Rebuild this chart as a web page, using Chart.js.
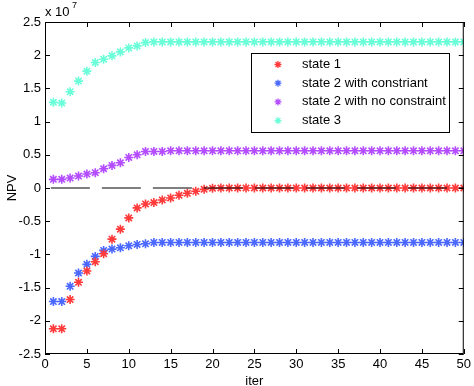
<!DOCTYPE html>
<html>
<head>
<meta charset="utf-8">
<script src="https://cdn.jsdelivr.net/npm/chart.js@4.4.0/dist/chart.umd.min.js"></script>
<style>
html, body { margin: 0; padding: 0; background: #fff; }
#wrap { width: 474px; height: 386px; }
</style>
</head>
<body>
<div id="wrap"><canvas id="npvChart" width="474" height="386"></canvas></div>
<script>
// values in units of 1e7
var iters = [];
for (var i = 1; i <= 50; i++) iters.push(i);

var state1 = [-2.12, -2.12, -1.68, -1.42, -1.25, -1.11, -0.99, -0.77, -0.62, -0.45,
  -0.30, -0.24, -0.22, -0.18, -0.15, -0.11, -0.08, -0.05, -0.02, -0.005,
  0, 0, 0, 0, 0, 0, 0, 0, 0, 0, 0, 0, 0, 0, 0, 0, 0, 0, 0, 0,
  0, 0, 0, 0, 0, 0, 0, 0, 0, 0];
var state2c = [-1.71, -1.71, -1.48, -1.28, -1.15, -1.03, -0.94, -0.92, -0.90, -0.87,
  -0.85, -0.84, -0.82, -0.82, -0.82, -0.82, -0.82, -0.82, -0.82, -0.82,
  -0.82, -0.82, -0.82, -0.82, -0.82, -0.82, -0.82, -0.82, -0.82, -0.82,
  -0.82, -0.82, -0.82, -0.82, -0.82, -0.82, -0.82, -0.82, -0.82, -0.82,
  -0.82, -0.82, -0.82, -0.82, -0.82, -0.82, -0.82, -0.82, -0.82, -0.82];
var state2nc = [0.13, 0.13, 0.15, 0.18, 0.21, 0.23, 0.29, 0.34, 0.38, 0.46,
  0.50, 0.55, 0.55, 0.55, 0.56, 0.56, 0.56, 0.56, 0.56, 0.56,
  0.56, 0.56, 0.56, 0.56, 0.56, 0.56, 0.56, 0.56, 0.56, 0.56,
  0.56, 0.56, 0.56, 0.56, 0.56, 0.56, 0.56, 0.56, 0.56, 0.56,
  0.56, 0.56, 0.56, 0.56, 0.56, 0.56, 0.56, 0.56, 0.56, 0.56];
var state3 = [1.29, 1.28, 1.45, 1.61, 1.76, 1.89, 1.94, 1.99, 2.05, 2.11,
  2.14, 2.19, 2.2, 2.2, 2.2, 2.2, 2.2, 2.2, 2.2, 2.2,
  2.2, 2.2, 2.2, 2.2, 2.2, 2.2, 2.2, 2.2, 2.2, 2.2,
  2.2, 2.2, 2.2, 2.2, 2.2, 2.2, 2.2, 2.2, 2.2, 2.2,
  2.2, 2.2, 2.2, 2.2, 2.2, 2.2, 2.2, 2.2, 2.2, 2.2];
var zeroLineX = [0.7, 50];
var zeroLineY = [0, 0];

var labels = ["state 1", "state 2 with constriant", "state 2 with no constraint", "state 3"];
var colors = ['#ff3a3a', '#4a68ff', '#b44cff', '#6affd8'];

var xTicks = [0, 5, 10, 15, 20, 25, 30, 35, 40, 45, 50];
var yTicks = [-2.5, -2, -1.5, -1, -0.5, 0, 0.5, 1, 1.5, 2, 2.5];

var FONT = "'Liberation Sans', Arial, Helvetica, sans-serif";

function pts(xs, ys) {
  return xs.map(function (x, k) { return { x: x, y: ys[k] }; });
}

function starSet(label, ys, color) {
  return {
    label: label,
    data: pts(iters, ys),
    showLine: false,
    pointStyle: 'star',
    pointRadius: 4.5,
    pointBorderWidth: 1.6,
    borderColor: color,
    backgroundColor: color,
    inLegend: true
  };
}

var frame = {
  id: 'frame',
  afterDraw: function (chart) {
    var c = chart.ctx, a = chart.chartArea;
    var sx = chart.scales.x, sy = chart.scales.y;
    c.save();
    c.strokeStyle = '#000';
    c.lineWidth = 1;
    c.strokeRect(a.left + 0.5, a.top + 0.5, a.right - a.left - 1, a.bottom - a.top - 1);
    c.beginPath();
    xTicks.forEach(function (v) {
      var px = Math.round(sx.getPixelForValue(v)) + 0.5;
      c.moveTo(px, a.bottom); c.lineTo(px, a.bottom - 5);
      c.moveTo(px, a.top); c.lineTo(px, a.top + 5);
    });
    yTicks.forEach(function (v) {
      var py = Math.round(sy.getPixelForValue(v)) + 0.5;
      c.moveTo(a.left, py); c.lineTo(a.left + 5, py);
      c.moveTo(a.right, py); c.lineTo(a.right - 5, py);
    });
    c.stroke();

    c.fillStyle = '#000';
    c.font = '13px ' + FONT;
    c.textBaseline = 'alphabetic';
    c.textAlign = 'left';
    c.fillText('x 10', 45, 16);
    c.font = '9px ' + FONT;
    c.fillText('7', 72, 8);

    c.font = '13px ' + FONT;
    c.textAlign = 'center';
    c.fillText('iter', (a.left + a.right) / 2, 385);
    c.save();
    c.translate(12, (a.top + a.bottom) / 2);
    c.rotate(-Math.PI / 2);
    c.textBaseline = 'middle';
    c.fillText('NPV', 0, 0);
    c.restore();

    // legend
    var lx = 251, ly = 53, lw = 198, lh = 79;
    c.fillStyle = '#fff';
    c.fillRect(lx, ly, lw, lh);
    c.strokeStyle = '#000';
    c.strokeRect(lx + 0.5, ly + 0.5, lw, lh);
    var ds = chart.data.datasets.filter(function (d) { return d.inLegend; });
    ds.forEach(function (d, k) {
      var yy = 64.5 + k * 18.7;
      var r = 3.5;
      c.strokeStyle = d.borderColor;
      c.lineWidth = 1.3;
      c.beginPath();
      c.moveTo(278 - r, yy); c.lineTo(278 + r, yy);
      c.moveTo(278, yy - r); c.lineTo(278, yy + r);
      c.moveTo(278 - r * 0.7, yy - r * 0.7); c.lineTo(278 + r * 0.7, yy + r * 0.7);
      c.moveTo(278 - r * 0.7, yy + r * 0.7); c.lineTo(278 + r * 0.7, yy - r * 0.7);
      c.stroke();
      c.fillStyle = '#000';
      c.font = '13px ' + FONT;
      c.textAlign = 'left';
      c.textBaseline = 'middle';
      c.fillText(d.label, 302, yy);
    });
    c.restore();
  }
};

var ctx = document.getElementById('npvChart').getContext('2d');
var npvChart = new Chart(ctx, {
  type: 'scatter',
  data: {
    datasets: [
      {
        label: 'zero',
        data: pts(zeroLineX, zeroLineY),
        showLine: true,
        borderColor: '#000',
        borderWidth: 1,
        borderDash: [39, 12],
        pointRadius: 0,
        inLegend: false
      },
      starSet(labels[0], state1, colors[0]),
      starSet(labels[1], state2c, colors[1]),
      starSet(labels[2], state2nc, colors[2]),
      starSet(labels[3], state3, colors[3])
    ]
  },
  plugins: [frame],
  options: {
    responsive: false,
    animation: false,
    layout: { padding: { top: 22, right: 7, left: 0, bottom: 0 } },
    plugins: {
      legend: { display: false },
      tooltip: { enabled: false }
    },
    scales: {
      x: {
        type: 'linear',
        min: 0, max: 50,
        afterBuildTicks: function (s) { s.ticks = xTicks.map(function (v) { return { value: v }; }); },
        afterFit: function (s) { s.height = 32; },
        grid: { display: false, drawTicks: false },
        border: { display: false },
        ticks: {
          color: '#000', padding: 3, font: { family: FONT, size: 13 }, maxRotation: 0,
          callback: function (v) { return String(v); }
        }
      },
      y: {
        type: 'linear',
        min: -2.5, max: 2.5,
        afterBuildTicks: function (s) { s.ticks = yTicks.map(function (v) { return { value: v }; }); },
        afterFit: function (s) { s.width = 45; },
        grid: { display: false, drawTicks: false },
        border: { display: false },
        ticks: {
          color: '#000', padding: 4, font: { family: FONT, size: 13 },
          callback: function (v) { return String(v); }
        }
      }
    }
  }
});
</script>
</body>
</html>
